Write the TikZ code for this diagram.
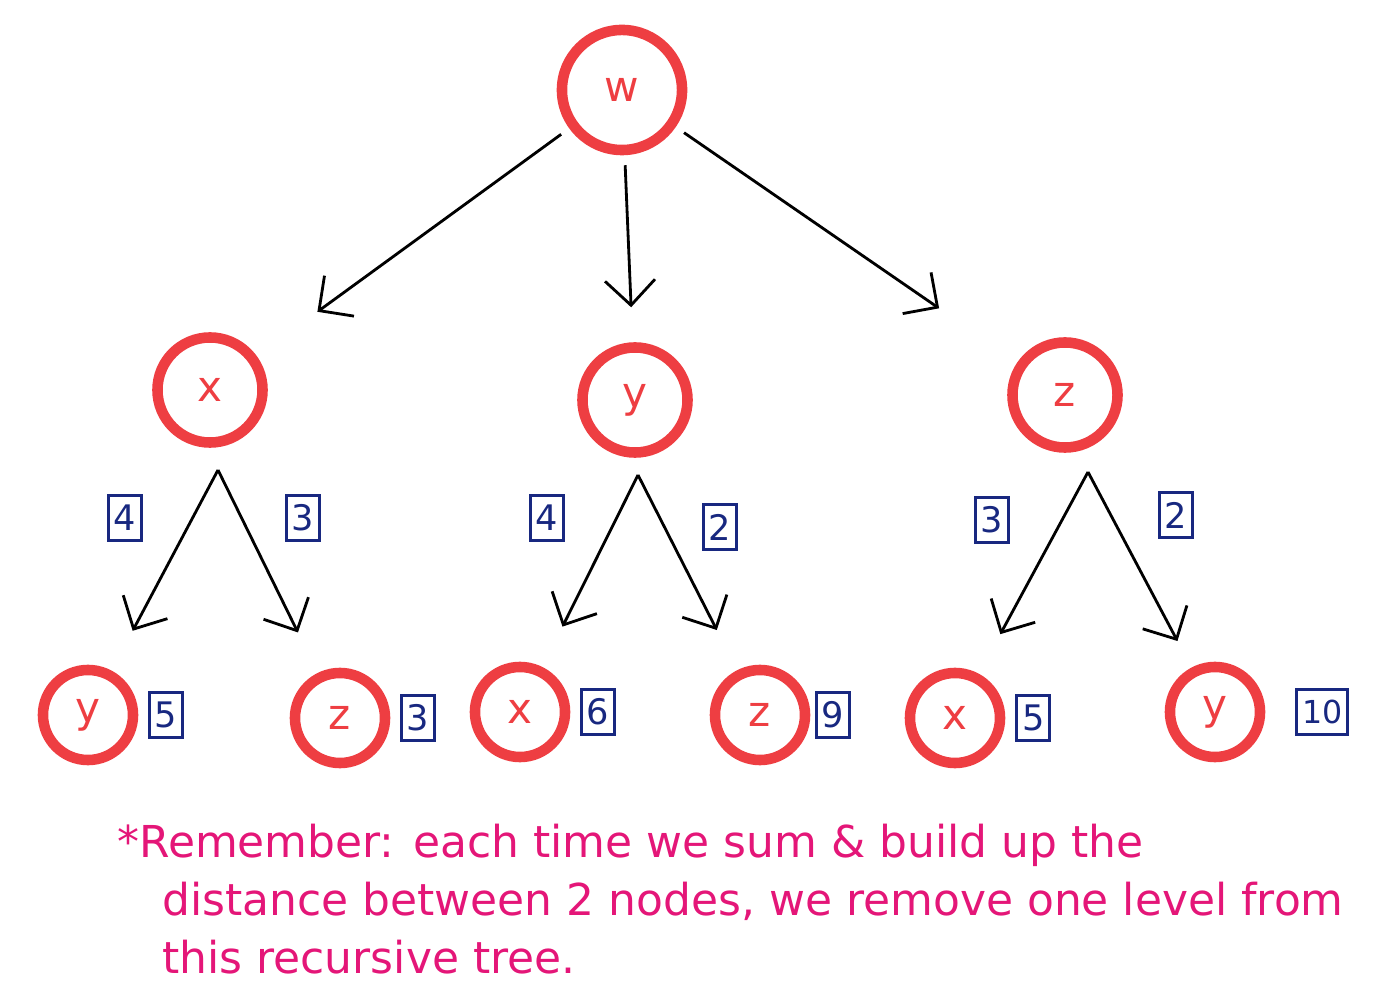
\documentclass[tikz,border=0pt]{standalone}
\usepackage{fontspec}
\setmainfont{DejaVu Sans}
\usetikzlibrary{arrows.meta,positioning}
\definecolor{ring}{RGB}{238,62,66}
\definecolor{ink}{RGB}{24,40,128}
\definecolor{note}{RGB}{228,22,120}
\tikzset{
  big/.style={circle, draw=ring, line width=3pt, text=ring, minimum size=1.05cm, font=\large},
  top/.style={big, minimum size=1.2cm},
  leaf/.style={big, minimum size=0.9cm},
  wt/.style={draw=ink, text=ink, thick, inner sep=1.5pt, minimum width=0.32cm, minimum height=0.45cm, font=\normalsize},
  arr/.style={-{Straight Barb[length=2.5mm,width=5mm]}, thick}
}
\begin{document}
\begin{tikzpicture}[x=0.01cm,y=-0.01cm]
\useasboundingbox (0,0) rectangle (1400,992);

% top level
\node[top] (w) at (622,90) {w};

\node[big] (x) at (210,390) {x};
\node[big] (y) at (635,400) {y};
\node[big] (z) at (1065,395) {z};

\draw[arr, shorten <=0.1cm, shorten >=0.75cm] (w) -- (x);
\draw[arr, shorten <=0.1cm, shorten >=0.35cm] (w) -- (y);
\draw[arr, shorten <=0.1cm, shorten >=0.95cm] (w) -- (z);

% second level
\node[leaf] (xy) at (88,715) {y};
\node[leaf] (xz) at (340,718) {z};
\node[leaf] (yx) at (520,712) {x};
\node[leaf] (yz) at (760,715) {z};
\node[leaf] (zx) at (955,718) {x};
\node[leaf] (zy) at (1215,712) {y};

\coordinate (xa) at (218,470);
\coordinate (ya) at (638,475);
\coordinate (za) at (1088,472);

\draw[arr, shorten >=0.45cm] (xa) -- (xy);
\draw[arr, shorten >=0.45cm] (xa) -- (xz);
\draw[arr, shorten >=0.45cm] (ya) -- (yx);
\draw[arr, shorten >=0.45cm] (ya) -- (yz);
\draw[arr, shorten >=0.45cm] (za) -- (zx);
\draw[arr, shorten >=0.3cm] (za) -- (zy);

% edge weights
\node[wt] at (125,518) {4};
\node[wt] at (303,518) {3};
\node[wt] at (547,518) {4};
\node[wt] at (720,527) {2};
\node[wt] at (992,520) {3};
\node[wt] at (1176,515) {2};

% path sums
\node[wt, right=0.1cm of xy] {5};
\node[wt, right=0.1cm of xz] {3};
\node[wt, right=0.1cm of yx] {6};
\node[wt, right=0.05cm of yz] {9};
\node[wt, right=0.1cm of zx] {5};
\node[wt, right=0.3cm of zy, font=\small] {10};

\node[text=note, anchor=north west, align=left, font=\fontsize{12.5}{16.5}\selectfont] (rem) at (105,812)
  {*Remember: each time we sum \& build up the\\
   \hspace{0.45cm}distance between 2 nodes, we remove one level from\\
   \hspace{0.45cm}this recursive tree.};
\end{tikzpicture}
\end{document}
